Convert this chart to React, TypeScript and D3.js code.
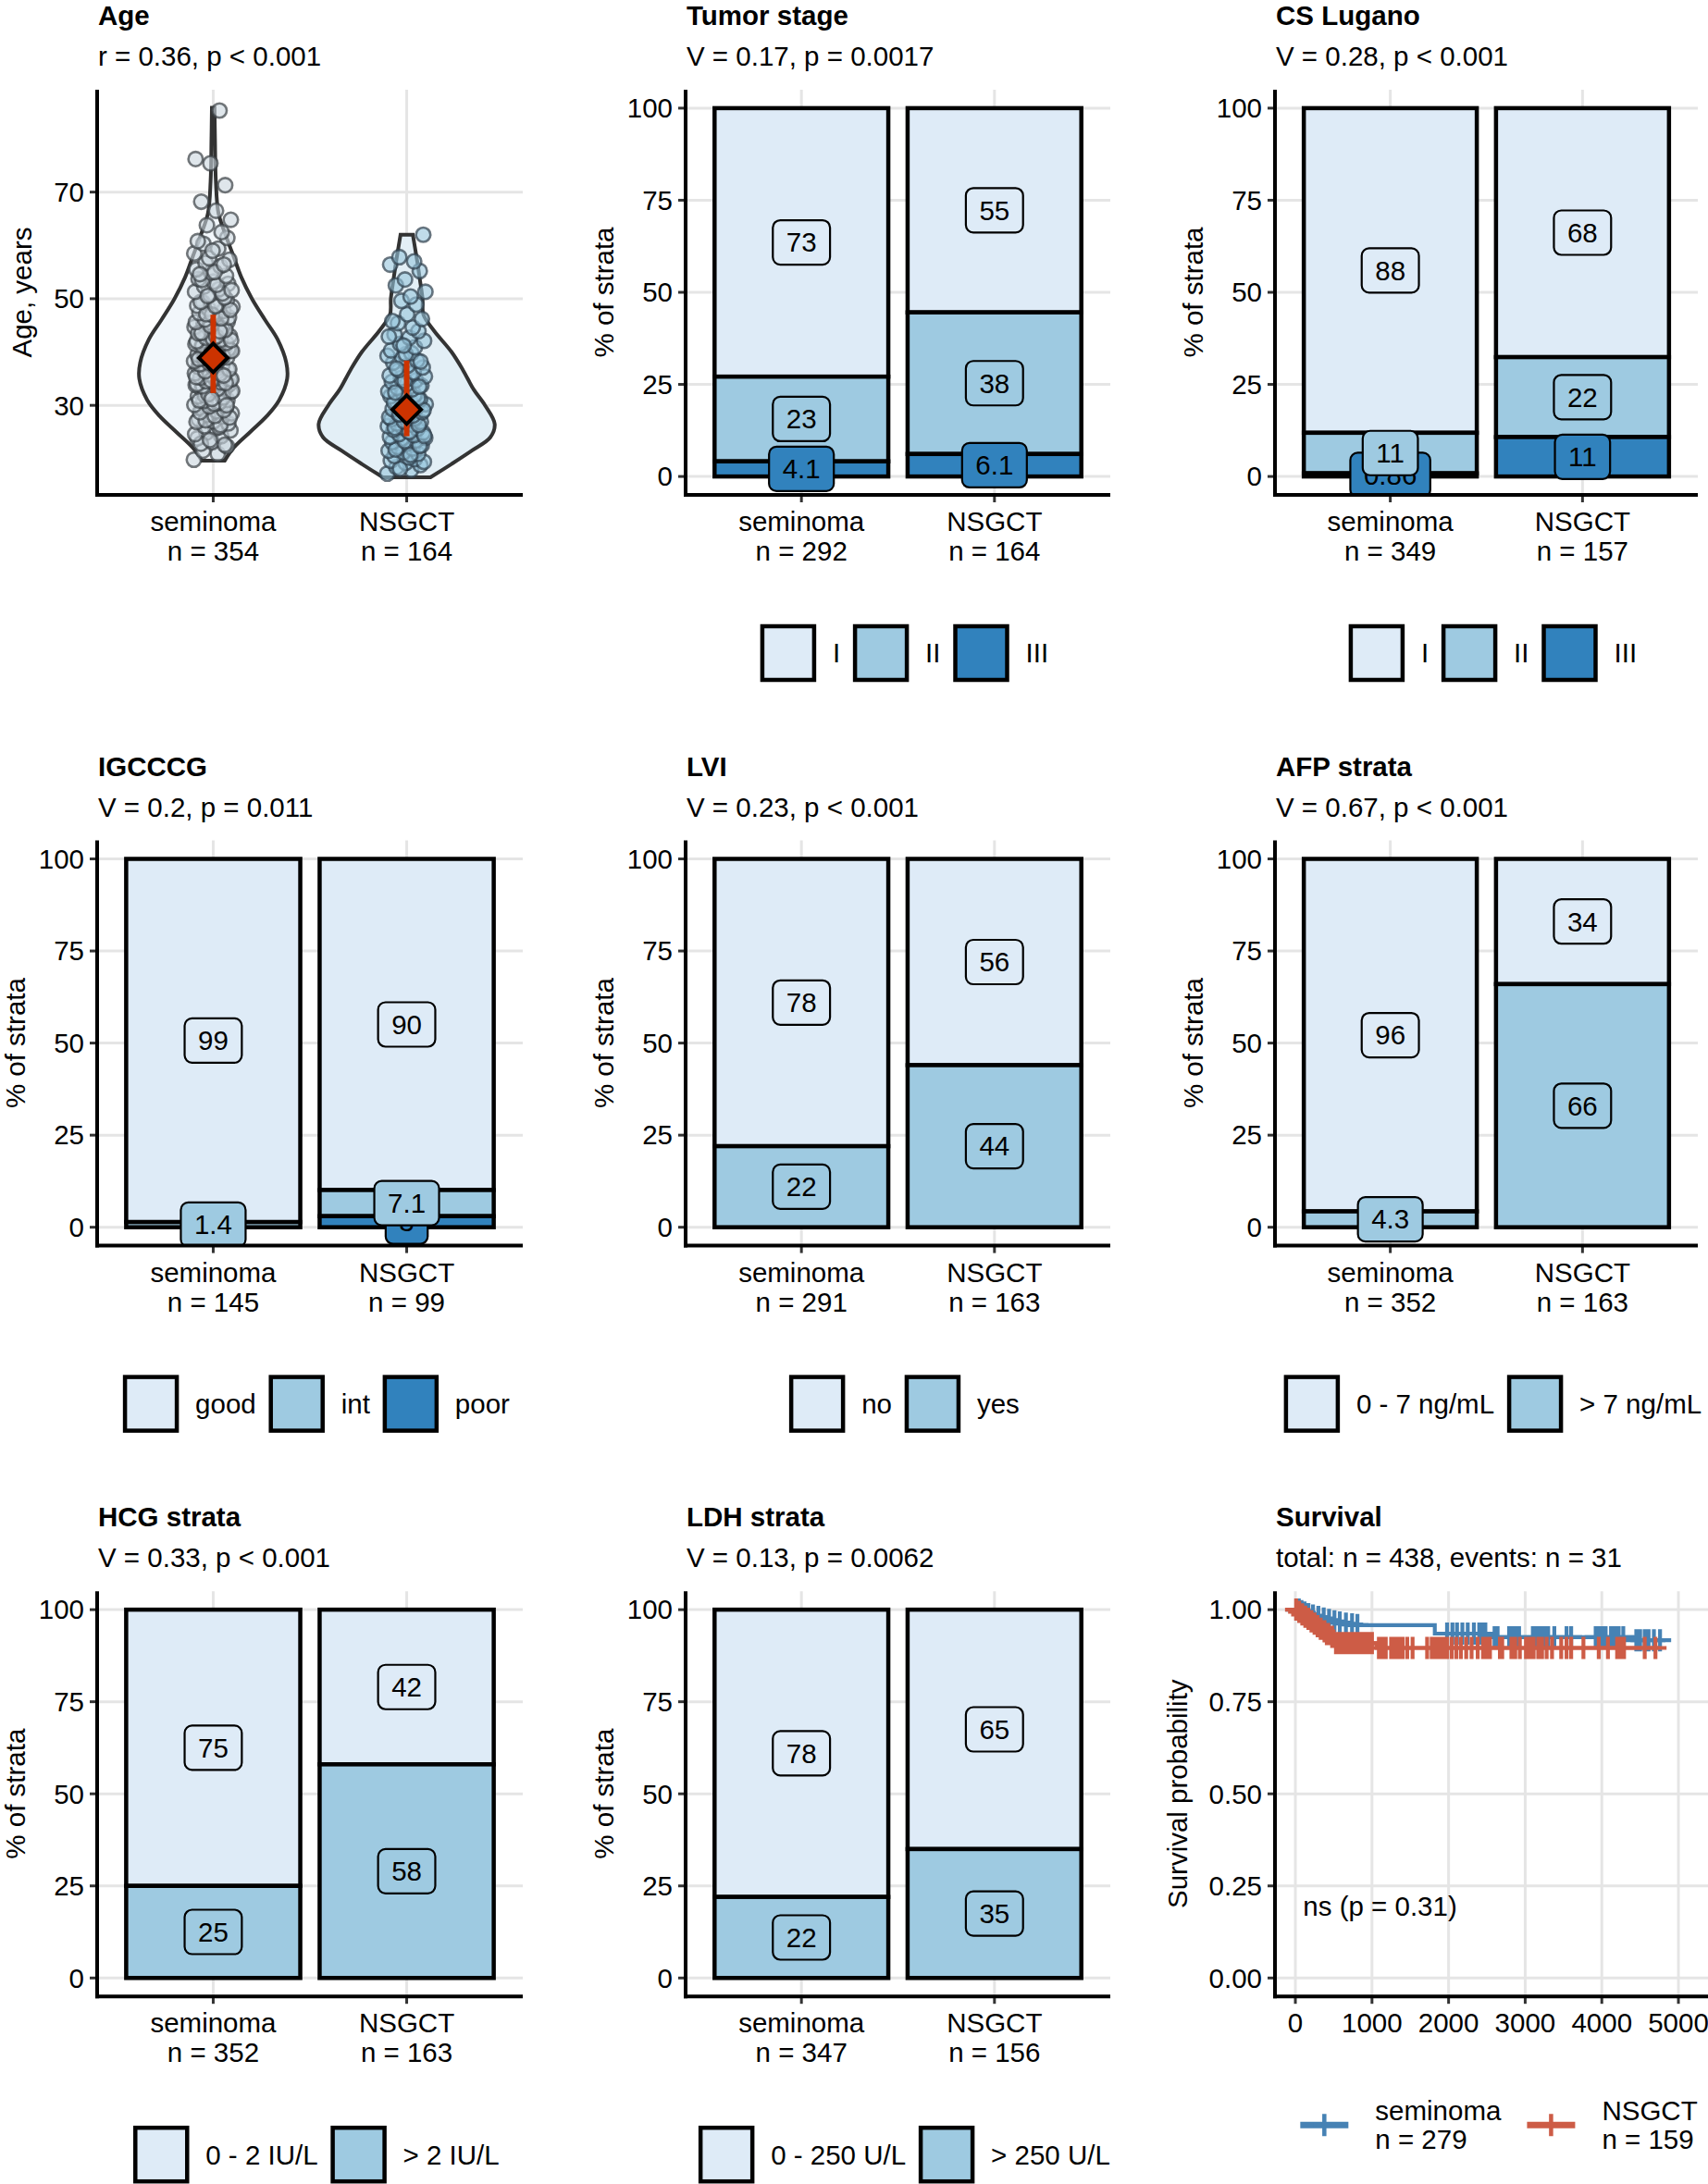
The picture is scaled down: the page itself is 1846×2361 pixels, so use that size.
import React from "react";
import * as d3 from "d3";

const W = 1846;
const H = 2361;
const FONT = "'Liberation Sans', Arial, Helvetica, sans-serif";
const FS = 29.5;

const groups = ["seminoma", "NSGCT"];
const fills = ["#DEEBF7", "#9ECAE1", "#3182BD"];
const kmColors = ["#4682B4", "#CD5C46"];

// ---- Age (violin + jittered points) ----
const ageN = [354, 164];
const ageSeminoma = [
  19.8, 20.9, 21.5,
  22.3, 23.1, 23.8, 24.2, 24.9, 25.3, 25.7, 22.8, 22.6, 23.5, 24.6, 25.9,
  26.1, 26.6, 27.0, 27.4, 27.9, 28.2, 28.5, 28.9, 29.3, 29.6, 29.9, 26.9, 26.3, 27.2, 27.7, 28.0, 28.7, 29.1, 29.8,
  30.1, 30.4, 30.8, 31.0, 31.3, 31.7, 32.0, 32.2, 32.5, 32.8, 33.0, 33.3, 33.5, 33.8, 30.6, 31.9, 33.9,
  30.3, 30.9, 31.5, 32.1, 32.7, 33.1, 33.6, 30.0, 31.2,
  34.0, 34.3, 34.5, 34.8, 35.0, 35.2, 35.5, 35.8, 36.0, 36.2, 36.5, 36.7, 37.0, 37.2, 37.5, 37.8, 34.9, 36.9, 37.9,
  34.2, 34.7, 35.3, 35.9, 36.4, 36.8, 37.3, 37.7, 35.6,
  38.0, 38.3, 38.5, 38.8, 39.0, 39.3, 39.5, 39.8, 40.0, 40.3, 40.5, 40.8, 41.0, 41.3, 41.5, 41.8, 38.9, 40.6,
  38.2, 38.7, 39.2, 39.7, 40.2, 40.9, 41.2, 41.7, 39.9,
  42.0, 42.3, 42.7, 43.0, 43.3, 43.7, 44.0, 44.3, 44.7, 45.0, 45.3, 45.7, 42.5, 43.5, 44.5, 45.5,
  42.2, 42.9, 43.6, 44.2, 44.9, 45.6, 43.9,
  46.1, 46.5, 46.9, 47.3, 47.7, 48.1, 48.5, 48.9, 49.3, 49.7, 47.0, 48.7, 46.3, 47.1, 47.9, 48.6, 49.4,
  50.2, 50.7, 51.3, 51.8, 52.3, 52.8, 53.2, 53.7, 51.0, 50.5, 51.6, 52.6, 53.5,
  54.3, 54.9, 55.5, 56.1, 56.7, 57.3, 55.0, 54.6, 56.4, 57.6,
  58.5, 59.4, 60.3, 61.4, 59.0, 60.8,
  62.5, 63.8, 64.8, 66.5, 68.2, 71.3, 75.4, 76.2, 85.3,
];
const ageNsgct = [
  17.2, 17.9, 18.4, 18.8, 19.2, 19.6, 19.9, 18.1, 19.4,
  20.2, 20.5, 20.9, 21.2, 21.5, 21.9, 22.2, 22.5, 22.8, 23.1, 23.4, 23.7, 23.9, 20.7, 21.7, 22.4, 23.3,
  24.1, 24.4, 24.6, 24.9, 25.1, 25.4, 25.6, 25.9, 26.1, 26.4, 26.6, 26.9, 27.1, 27.4, 27.6, 27.9,
  24.3, 25.0, 25.8, 26.3, 27.0, 27.8,
  28.1, 28.4, 28.7, 29.0, 29.3, 29.6, 29.9, 30.2, 30.5, 30.8, 31.1, 31.4, 31.7, 31.9, 28.3, 29.1, 29.8, 30.6, 31.3,
  32.2, 32.6, 33.0, 33.3, 33.7, 34.0, 34.4, 34.7, 35.1, 35.4, 35.8, 32.4, 33.5, 34.6, 35.6,
  36.2, 36.6, 37.1, 37.5, 38.0, 38.4, 38.9, 39.3, 39.8, 36.9, 38.2, 39.6,
  40.3, 40.9, 41.5, 42.1, 42.7, 43.3, 43.9, 41.2, 42.9,
  44.6, 45.4, 46.2, 47.1, 45.8,
  48.9, 49.6, 51.3, 50.4,
  52.5, 55.2, 53.6,
  56.4, 57.0, 57.8,
  62.0,
];
// violin outline: relative density at a set of ages
const violinSemAge = [19.6, 22, 25, 28, 31, 35, 38, 42.4, 46, 50, 54, 58, 62, 66, 72, 80, 85.8];
const violinSemDens = [0.13, 0.23, 0.42, 0.61, 0.75, 0.84, 0.83, 0.73, 0.59, 0.44, 0.32, 0.23, 0.14, 0.06, 0.03, 0.02, 0.015];
const violinNsgctAge = [16.5, 19, 21.5, 24, 26.5, 30, 33, 36.6, 40, 44, 47, 50, 53.6, 57, 60, 62];
const violinNsgctDens = [0.27, 0.51, 0.74, 0.95, 1.0, 0.89, 0.76, 0.64, 0.51, 0.31, 0.19, 0.18, 0.15, 0.12, 0.09, 0.07];
const ageMid = [38.9, 29.2];
const ageLo = [32.3, 24.2];
const ageHi = [47.0, 38.4];
const ageTicks = [30, 50, 70];

// ---- stacked percentage panels ----
const pctTicks = [0, 25, 50, 75, 100];

const stageLevels = ["I", "II", "III"];
const stageSeminoma = [72.9, 23.0, 4.1];
const stageNsgct = [55.45, 38.45, 6.1];
const stageN = [292, 164];

const luganoLevels = ["I", "II", "III"];
const luganoSeminoma = [88.14, 11.0, 0.86];
const luganoNsgct = [67.6, 21.7, 10.7];
const luganoN = [349, 157];

const igcccgLevels = ["good", "int", "poor"];
const igcccgSeminoma = [98.6, 1.4, 0];
const igcccgNsgct = [89.9, 7.1, 3.0];
const igcccgN = [145, 99];

const lviLevels = ["no", "yes"];
const lviSeminoma = [78, 22];
const lviNsgct = [56, 44];
const lviN = [291, 163];

const afpLevels = ["0 - 7 ng/mL", "> 7 ng/mL"];
const afpSeminoma = [95.7, 4.3];
const afpNsgct = [34, 66];
const afpN = [352, 163];

const hcgLevels = ["0 - 2 IU/L", "> 2 IU/L"];
const hcgSeminoma = [75, 25];
const hcgNsgct = [42, 58];
const hcgN = [352, 163];

const ldhLevels = ["0 - 250 U/L", "> 250 U/L"];
const ldhSeminoma = [78, 22];
const ldhNsgct = [65, 35];
const ldhN = [347, 156];

// ---- survival ----
const survN = [279, 159];
const survSemTime = [0, 60, 110, 160, 210, 260, 320, 380, 450, 520, 600, 700, 800, 1820, 2500, 4400];
const survSemProb = [1, 0.996, 0.992, 0.988, 0.984, 0.98, 0.976, 0.972, 0.968, 0.965, 0.962, 0.96, 0.958, 0.935, 0.925, 0.917];
const survSemEnd = 4830;
const survSemCensor = [
  15, 45, 80, 120, 170, 230, 300, 370, 440, 510, 580, 660, 740, 810, 1980, 2050, 2110, 2180,
  2250, 2330, 2400, 2440, 2480, 2600, 2640, 2790, 2830, 2870, 2920, 3100, 3150, 3200, 3250, 3300,
  3380, 3540, 3600, 3920, 3960, 4000, 4050, 4120, 4170, 4220, 4280, 4450, 4500, 4560, 4610, 4680, 4760,
];
const survNsgctTime = [0, 30, 60, 100, 140, 180, 220, 260, 300, 350, 400, 450, 500, 1060];
const survNsgctProb = [1, 0.994, 0.987, 0.981, 0.975, 0.968, 0.962, 0.955, 0.948, 0.941, 0.934, 0.926, 0.909, 0.896];
const survNsgctEnd = 4745;
const survNsgctCensor = [
  10, 50, 90, 130, 170, 210, 250, 290, 330, 380, 430, 480, 530, 570, 610, 650, 690, 730, 770, 810,
  850, 900, 950, 1000, 1090, 1140, 1180, 1250, 1300, 1350, 1400, 1460, 1530, 1720, 1780, 1830, 1880,
  1930, 1980, 2040, 2100, 2160, 2230, 2300, 2380, 2450, 2500, 2540, 2670, 2700, 2820, 2870, 2930,
  3010, 3060, 3110, 3170, 3220, 3280, 3350, 3470, 3540, 3600, 3760, 3960, 4080, 4200, 4250, 4290,
  4560, 4700,
];
const survTicksX = [0, 1000, 2000, 3000, 4000, 5000];
const survTicksY = [0, 0.25, 0.5, 0.75, 1];

// ---- layout ----
const COLS: [number, number][] = [[105, 565], [741, 1200], [1378, 1835]];
const ROW_STEP = 811.6;
const TOP = 97;
const BOTTOM = 535;
const GRID = "#E5E5E5";

let ctx: CanvasRenderingContext2D | null = null;
function textWidth(s: string) {
  if (!ctx) ctx = document.createElement("canvas").getContext("2d");
  if (!ctx) return s.length * FS * 0.55;
  ctx.font = `${FS}px ${FONT}`;
  return ctx.measureText(s).width;
}

const fmtPct = (v: number) => String(+v.toPrecision(2));

function Header({ x, top, title, subtitle }: any) {
  return (
    <g>
      <text x={x} y={top - 70} fontWeight="bold">{title}</text>
      <text x={x} y={top - 26}>{subtitle}</text>
    </g>
  );
}

function Frame({ x0, x1, top, bottom, y, yTicks, yFmt, xTicks, xPos, yTitle, yTitleOff }: any) {
  return (
    <g>
      {yTicks.map((t: number) => (
        <g key={"y" + t}>
          <line x1={x0 - 8} x2={x0} y1={y(t)} y2={y(t)} stroke="#333" strokeWidth={3} />
          <text x={x0 - 14} y={y(t)} dy="0.35em" textAnchor="end">{yFmt(t)}</text>
        </g>
      ))}
      {xTicks.map((t: any) => (
        <line key={"x" + t} x1={xPos(t)} x2={xPos(t)} y1={bottom} y2={bottom + 8} stroke="#333" strokeWidth={3} />
      ))}
      <line x1={x0} x2={x0} y1={top} y2={bottom + 2} stroke="#000" strokeWidth={4} />
      <line x1={x0 - 2} x2={x1} y1={bottom} y2={bottom} stroke="#000" strokeWidth={4} />
      <text transform={`translate(${x0 - yTitleOff},${(top + bottom) / 2}) rotate(-90)`} textAnchor="middle">
        {yTitle}
      </text>
    </g>
  );
}

function Grid({ x0, x1, top, bottom, yVals, xVals }: any) {
  return (
    <g stroke={GRID} strokeWidth={3}>
      {yVals.map((v: number, i: number) => <line key={"h" + i} x1={x0} x2={x1} y1={v} y2={v} />)}
      {xVals.map((v: number, i: number) => <line key={"v" + i} x1={v} x2={v} y1={top} y2={bottom} />)}
    </g>
  );
}

function GroupLabels({ x, bottom, ns }: any) {
  return (
    <g textAnchor="middle">
      {groups.map((g, i) => (
        <g key={g}>
          <text x={x(g)} y={bottom + 39}>{g}</text>
          <text x={x(g)} y={bottom + 71}>{`n = ${ns[i]}`}</text>
        </g>
      ))}
    </g>
  );
}

function BarPanel({ row, col, title, subtitle, levels, seminoma, nsgct, ns }: any) {
  const [x0, x1] = COLS[col];
  const top = TOP + row * ROW_STEP;
  const bottom = BOTTOM + row * ROW_STEP;
  const x = d3.scalePoint<string>().domain(groups).range([x0, x1]).padding(0.6);
  const bw = x.step() * 0.9;
  const y = d3.scaleLinear().domain([-5, 105]).range([bottom, top]);
  const rows = [seminoma, nsgct].map((vals: number[], gi: number) => {
    const o: any = { group: groups[gi] };
    levels.forEach((l: string, k: number) => (o[l] = vals[k]));
    return o;
  });
  const series = d3.stack<any>().keys(levels).order(d3.stackOrderReverse)(rows);
  const clipId = `clip-${row}-${col}`;
  const labelOrder = series.slice().reverse();

  // legend
  const keyW = 56, keyH = 58, gap1 = 20, gap2 = 16;
  const widths = levels.map((l: string) => keyW + gap1 + textWidth(l));
  const total = d3.sum(widths) + gap2 * (levels.length - 1);
  const legY = 706 + row * ROW_STEP;
  let lx = (x0 + x1) / 2 + 8 - total / 2;
  const legend = levels.map((l: string, k: number) => {
    const cx = lx;
    lx += widths[k] + gap2;
    return (
      <g key={l}>
        <rect x={cx} y={legY - keyH / 2} width={keyW} height={keyH} fill={fills[k]} stroke="#000" strokeWidth={4.5} />
        <text x={cx + keyW + gap1} y={legY} dy="0.35em">{l}</text>
      </g>
    );
  });

  return (
    <g>
      <clipPath id={clipId}>
        <rect x={x0} y={top} width={x1 - x0} height={bottom - top} />
      </clipPath>
      <Header x={x0 + 1} top={top} title={title} subtitle={subtitle} />
      <Grid x0={x0} x1={x1} top={top} bottom={bottom} yVals={pctTicks.map((t) => y(t))} xVals={groups.map((g) => x(g))} />
      <g clipPath={`url(#${clipId})`}>
        {series.map((s: any) => (
          <g key={s.key} fill={fills[levels.indexOf(s.key)]}>
            {s.map((d: any) => (
              <rect
                key={d.data.group}
                x={(x(d.data.group) as number) - bw / 2}
                width={bw}
                y={y(d[1])}
                height={y(d[0]) - y(d[1])}
                stroke="#000"
                strokeWidth={4.5}
              />
            ))}
          </g>
        ))}
        {labelOrder.map((s: any) => (
          <g key={"l" + s.key}>
            {s.filter((d: any) => d[1] - d[0] > 0).map((d: any) => {
              const v = d[1] - d[0];
              const txt = fmtPct(v);
              const w = textWidth(txt) + 29;
              const cx = x(d.data.group) as number;
              const cy = y((d[0] + d[1]) / 2);
              return (
                <g key={d.data.group}>
                  <rect x={cx - w / 2} y={cy - 24} width={w} height={48} rx={8} fill={fills[levels.indexOf(s.key)]} stroke="#000" strokeWidth={2.2} />
                  <text x={cx} y={cy} dy="0.35em" textAnchor="middle">{txt}</text>
                </g>
              );
            })}
          </g>
        ))}
      </g>
      <Frame x0={x0} x1={x1} top={top} bottom={bottom} y={y} yTicks={pctTicks} yFmt={(t: number) => String(t)}
        xTicks={groups} xPos={x} yTitle="% of strata" yTitleOff={78} />
      <GroupLabels x={x} bottom={bottom} ns={ns} />
      {legend}
    </g>
  );
}

function AgePanel() {
  const [x0, x1] = COLS[0];
  const top = TOP;
  const bottom = BOTTOM;
  const x = d3.scalePoint<string>().domain(groups).range([x0, x1]).padding(0.6);
  const step = x.step();
  const y = d3.scaleLinear().domain([13.2, 89.2]).range([bottom, top]);
  const half = 0.455 * step;
  const jit = (i: number) => (((i * 0.6180339887) % 1) - 0.5) * 2 * 0.1 * step;
  const violins = [
    { ages: violinSemAge, dens: violinSemDens, fill: "#F2F7FB", pts: ageSeminoma, pf: "#C9D5DE", ps: "#3A4044" },
    { ages: violinNsgctAge, dens: violinNsgctDens, fill: "#E3EFF6", pts: ageNsgct, pf: "#96C4DC", ps: "#2F3F4B" },
  ];
  return (
    <g>
      <Header x={x0 + 1} top={top} title="Age" subtitle="r = 0.36, p < 0.001" />
      <Grid x0={x0} x1={x1} top={top} bottom={bottom} yVals={ageTicks.map((t) => y(t))} xVals={groups.map((g) => x(g))} />
      {violins.map((v, gi) => {
        const cx = x(groups[gi]) as number;
        const area = d3
          .area<number>()
          .y((_, i) => y(v.ages[i]))
          .x0((d) => cx - d * half)
          .x1((d) => cx + d * half)
          .curve(d3.curveCatmullRom.alpha(0.5));
        return (
          <g key={gi}>
            <path d={area(v.dens) as string} fill={v.fill} stroke="#333" strokeWidth={4} />
            {v.pts.map((a, i) => (
              <circle key={i} cx={cx + jit(i)} cy={y(a)} r={7.8} fill={v.pf} fillOpacity={0.6}
                stroke={v.ps} strokeOpacity={0.7} strokeWidth={2.6} />
            ))}
          </g>
        );
      })}
      {groups.map((g, gi) => {
        const cx = x(g) as number;
        const cy = y(ageMid[gi]);
        const r = 15.5;
        return (
          <g key={"m" + g}>
            <line x1={cx} x2={cx} y1={y(ageLo[gi])} y2={y(ageHi[gi])} stroke="#CC3300" strokeWidth={6} />
            <path d={`M${cx},${cy - r}L${cx + r},${cy}L${cx},${cy + r}L${cx - r},${cy}Z`} fill="#CC3300" stroke="#000" strokeWidth={4} />
          </g>
        );
      })}
      <Frame x0={x0} x1={x1} top={top} bottom={bottom} y={y} yTicks={ageTicks} yFmt={(t: number) => String(t)}
        xTicks={groups} xPos={x} yTitle="Age, years" yTitleOff={71} />
      <GroupLabels x={x} bottom={bottom} ns={ageN} />
    </g>
  );
}

function SurvivalPanel() {
  const row = 2;
  const x0 = COLS[2][0];
  const x1 = W;
  const top = TOP + row * ROW_STEP;
  const bottom = BOTTOM + row * ROW_STEP;
  const x = d3.scaleLinear().domain([-266, 5386]).range([x0, x1]);
  const y = d3.scaleLinear().domain([-0.05, 1.05]).range([bottom, top]);
  const line = d3.line<[number, number]>().x((d) => x(d[0])).y((d) => y(d[1])).curve(d3.curveStepAfter);
  const curves = [
    { time: survSemTime, prob: survSemProb, end: survSemEnd, cens: survSemCensor, color: kmColors[0] },
    { time: survNsgctTime, prob: survNsgctProb, end: survNsgctEnd, cens: survNsgctCensor, color: kmColors[1] },
  ];
  const plus = (cx: number, cy: number, s: number) => `M${cx - s},${cy}h${2 * s}M${cx},${cy - s}v${2 * s}`;
  const legY = 706 + row * ROW_STEP - 32;
  const keyW = 52;
  const names = groups.map((g, i) => [g, `n = ${survN[i]}`]);
  const itemW = names.map((nm) => keyW + 29 + Math.max(textWidth(nm[0]), textWidth(nm[1])));
  const total = itemW[0] + 28 + itemW[1];
  let lx = (x0 + x1) / 2 + 8 - total / 2;
  const clipId = "clip-surv";
  return (
    <g>
      <clipPath id={clipId}>
        <rect x={x0} y={top} width={x1 - x0} height={bottom - top} />
      </clipPath>
      <Header x={x0 + 1} top={top} title="Survival" subtitle="total: n = 438, events: n = 31" />
      <Grid x0={x0} x1={x1} top={top} bottom={bottom} yVals={survTicksY.map((t) => y(t))} xVals={survTicksX.map((t) => x(t))} />
      <g clipPath={`url(#${clipId})`} fill="none">
        {curves.map((c, ci) => {
          const pts: [number, number][] = c.time.map((t, i) => [t, c.prob[i]] as [number, number]);
          pts.push([c.end, c.prob[c.prob.length - 1]]);
          return (
            <g key={ci} stroke={c.color}>
              <path d={line(pts) as string} strokeWidth={4.2} />
              <path
                d={c.cens.map((t) => plus(x(t), y(c.prob[d3.bisectRight(c.time, t) - 1]), 12)).join("")}
                strokeWidth={4.2}
              />
            </g>
          );
        })}
      </g>
      <text x={x(100)} y={y(0.17)}>ns (p = 0.31)</text>
      <Frame x0={x0} x1={x1} top={top} bottom={bottom} y={y} yTicks={survTicksY} yFmt={(t: number) => t.toFixed(2)}
        xTicks={survTicksX} xPos={x} yTitle="Survival probability" yTitleOff={95} />
      <g textAnchor="middle">
        {survTicksX.map((t) => (
          <text key={t} x={x(t)} y={bottom + 39}>{t}</text>
        ))}
      </g>
      {names.map((nm, i) => {
        const sx = lx;
        lx += itemW[i] + 28;
        return (
          <g key={nm[0]}>
            <path d={`M${sx},${legY}h${keyW}`} stroke={kmColors[i]} strokeWidth={7} />
            <path d={plus(sx + keyW / 2, legY, 12)} stroke={kmColors[i]} strokeWidth={4.5} />
            <text x={sx + keyW + 29} y={legY - 5}>{nm[0]}</text>
            <text x={sx + keyW + 29} y={legY + 26}>{nm[1]}</text>
          </g>
        );
      })}
    </g>
  );
}

export default function App() {
  return (
    <div>
      <style>{"body{margin:0;background:#fff}"}</style>
      <svg width={W} height={H} viewBox={`0 0 ${W} ${H}`} fontFamily={FONT} fontSize={FS} style={{ display: "block" }}>
        <rect width={W} height={H} fill="#fff" />
        <AgePanel />
        <BarPanel row={0} col={1} title="Tumor stage" subtitle="V = 0.17, p = 0.0017" levels={stageLevels}
          seminoma={stageSeminoma} nsgct={stageNsgct} ns={stageN} />
        <BarPanel row={0} col={2} title="CS Lugano" subtitle="V = 0.28, p < 0.001" levels={luganoLevels}
          seminoma={luganoSeminoma} nsgct={luganoNsgct} ns={luganoN} />
        <BarPanel row={1} col={0} title="IGCCCG" subtitle="V = 0.2, p = 0.011" levels={igcccgLevels}
          seminoma={igcccgSeminoma} nsgct={igcccgNsgct} ns={igcccgN} />
        <BarPanel row={1} col={1} title="LVI" subtitle="V = 0.23, p < 0.001" levels={lviLevels}
          seminoma={lviSeminoma} nsgct={lviNsgct} ns={lviN} />
        <BarPanel row={1} col={2} title="AFP strata" subtitle="V = 0.67, p < 0.001" levels={afpLevels}
          seminoma={afpSeminoma} nsgct={afpNsgct} ns={afpN} />
        <BarPanel row={2} col={0} title="HCG strata" subtitle="V = 0.33, p < 0.001" levels={hcgLevels}
          seminoma={hcgSeminoma} nsgct={hcgNsgct} ns={hcgN} />
        <BarPanel row={2} col={1} title="LDH strata" subtitle="V = 0.13, p = 0.0062" levels={ldhLevels}
          seminoma={ldhSeminoma} nsgct={ldhNsgct} ns={ldhN} />
        <SurvivalPanel />
      </svg>
    </div>
  );
}
